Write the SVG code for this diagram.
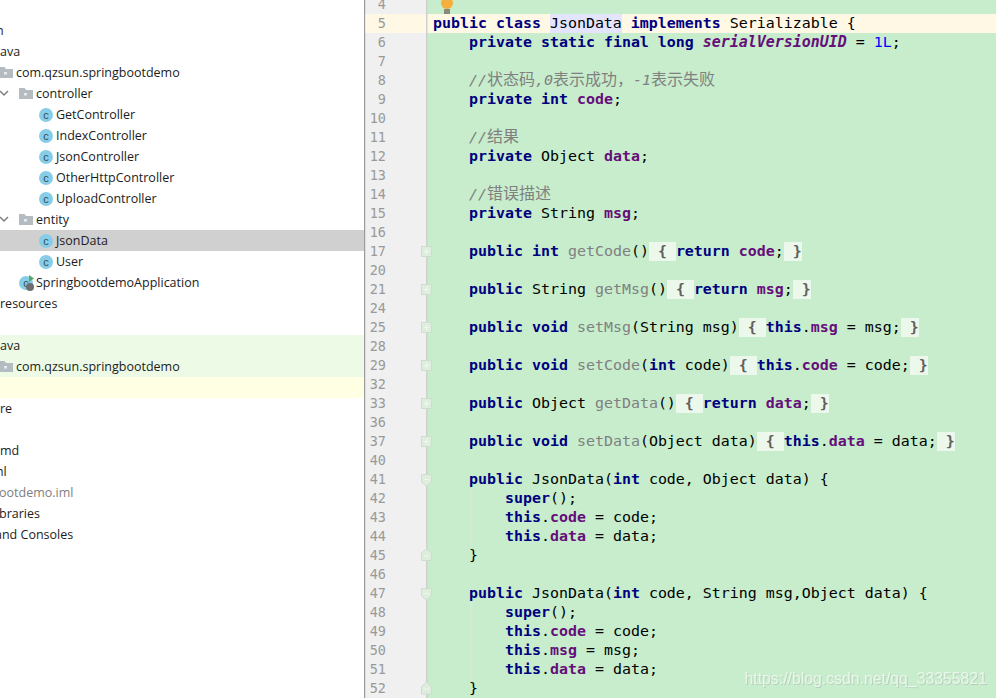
<svg xmlns="http://www.w3.org/2000/svg" width="996" height="698" viewBox="0 0 996 698">
<style>
.t{font:12.5px "Open Sans","Noto Sans",sans-serif;fill:#1c1c1c}
.g{fill:#808080}
.code{font:14.95px "DejaVu Sans Mono","Noto Sans CJK SC",monospace;fill:#000;white-space:pre}
.k{font-weight:700;fill:#000080}
.f{font-weight:700;fill:#660E7A}
.u{fill:#808080}
.cm{font-style:italic;fill:#808080}
.cj{font:16px "Noto Sans CJK SC",sans-serif;fill:#808080}
.b{font-weight:700;fill:#62615c}
.ln{font:13.5px "DejaVu Sans Mono",monospace;fill:#999;text-anchor:end}
.box{fill:#EDF8ED}
.fold{fill:#DDEEDD;stroke:#CFDDCF;stroke-width:1}
.pm{stroke:#F0F6F0;stroke-width:1;fill:none}
.ic{fill:#87CDE8}
.icl{font:11px "Liberation Sans",sans-serif;fill:#2f5060;text-anchor:middle}
.dir{fill:#B4BCC2}
.hole{fill:#E8EBED}
.chev{fill:none;stroke:#7f7f7f;stroke-width:1.500}
.wm{font:15.8px "Liberation Sans",sans-serif;fill:#fff;fill-opacity:.62}
</style>
<defs>
<filter id="sh" x="-5%" y="-30%" width="110%" height="160%"><feDropShadow dx="1" dy="1" stdDeviation=".6" flood-color="#888" flood-opacity=".45"/></filter>
<g id="folder"><path class="dir" d="M0 0h5.500l1.500 2h7v9h-14z"/><rect class="hole" x="5" y="5" width="3" height="2.500"/></g>
<g id="cls"><circle class="ic" r="7"/><text class="icl" y="3.500">c</text></g>
</defs>
<rect width="996" height="698" fill="#fff"/>

<!-- project tree -->
<rect x="0" y="230" width="364" height="21" fill="#D0D0D0"/>
<rect x="0" y="335" width="364" height="42" fill="#EDFAE6"/>
<rect x="0" y="377" width="364" height="21" fill="#FFFFE4"/>
<rect x="364" y="0" width="1.500" height="698" fill="#9b9b9b"/>

<use href="#folder" x="-1" y="67"/>
<use href="#folder" x="19" y="88"/>
<use href="#folder" x="19" y="214"/>
<use href="#folder" x="-1" y="361"/>
<path class="chev" d="M0 91l4 4 4-4M0 217l4 4 4-4"/>
<use href="#cls" x="46" y="115"/>
<use href="#cls" x="46" y="136"/>
<use href="#cls" x="46" y="157"/>
<use href="#cls" x="46" y="178"/>
<use href="#cls" x="46" y="199"/>
<use href="#cls" x="46" y="241"/>
<use href="#cls" x="46" y="262"/>
<use href="#cls" x="26" y="283"/>
<path d="M29 275l5 3.500-5 3.500z" fill="#59A869"/>
<circle cx="30" cy="287" r="4" fill="#6E6E6E"/>

<text class="t" x="-4" y="35">n</text>
<text class="t" x="0" y="56">ava</text>
<text class="t" x="16" y="77">com.qzsun.springbootdemo</text>
<text class="t" x="36" y="98">controller</text>
<text class="t" x="56" y="119">GetController</text>
<text class="t" x="56" y="140">IndexController</text>
<text class="t" x="56" y="161">JsonController</text>
<text class="t" x="56" y="182">OtherHttpController</text>
<text class="t" x="56" y="203">UploadController</text>
<text class="t" x="36" y="224">entity</text>
<text class="t" x="56" y="245">JsonData</text>
<text class="t" x="56" y="266">User</text>
<text class="t" x="36" y="287">SpringbootdemoApplication</text>
<text class="t" x="0" y="308">resources</text>
<text class="t" x="0" y="350">ava</text>
<text class="t" x="16" y="371">com.qzsun.springbootdemo</text>
<text class="t" x="0" y="413">re</text>
<text class="t" x="0" y="455">md</text>
<text class="t" x="-8" y="476">ml</text>
<text class="t g" x="-1" y="497">ootdemo.iml</text>
<text class="t" x="-1" y="518">braries</text>
<text class="t" x="-5" y="539">and Consoles</text>

<!-- editor -->
<rect x="365.500" y="0" width="61" height="698" fill="#F0F0F0"/>
<rect x="427" y="0" width="569" height="698" fill="#C7EDCC"/>
<rect x="365.500" y="14" width="630.500" height="19" fill="#FFF8E4"/>
<rect x="426" y="0" width="1.500" height="698" fill="#D0D0D0"/>
<rect x="550" y="14" width="72" height="19" fill="#E4E4FF"/>

<rect class="box" x="649" y="242" width="27" height="19"/><rect class="box" x="784" y="242" width="18" height="19"/>
<rect class="box" x="667" y="280" width="27" height="19"/><rect class="box" x="793" y="280" width="18" height="19"/>
<rect class="box" x="739" y="318" width="27" height="19"/><rect class="box" x="901" y="318" width="18" height="19"/>
<rect class="box" x="730" y="356" width="27" height="19"/><rect class="box" x="910" y="356" width="18" height="19"/>
<rect class="box" x="676" y="394" width="27" height="19"/><rect class="box" x="811" y="394" width="18" height="19"/>
<rect class="box" x="757" y="432" width="27" height="19"/><rect class="box" x="937" y="432" width="18" height="19"/>

<path d="M471 488V546M471 602V680" stroke="#DDE8DD" stroke-width="1" fill="none"/>

<!-- bulb -->
<circle cx="447" cy="3" r="6" fill="#F4AF3D"/>
<rect x="444" y="9" width="6" height="5" fill="#8a8a7a"/>

<!-- fold markers -->
<g>
<rect class="fold" x="421.500" y="246.500" width="10" height="10"/><path class="pm" d="M424 251.500h5M426.500 249v5"/>
<rect class="fold" x="421.500" y="284.500" width="10" height="10"/><path class="pm" d="M424 289.500h5M426.500 287v5"/>
<rect class="fold" x="421.500" y="322.500" width="10" height="10"/><path class="pm" d="M424 327.500h5M426.500 325v5"/>
<rect class="fold" x="421.500" y="360.500" width="10" height="10"/><path class="pm" d="M424 365.500h5M426.500 363v5"/>
<rect class="fold" x="421.500" y="398.500" width="10" height="10"/><path class="pm" d="M424 403.500h5M426.500 401v5"/>
<rect class="fold" x="421.500" y="436.500" width="10" height="10"/><path class="pm" d="M424 441.500h5M426.500 439v5"/>
<path class="fold" d="M421.500 474.500h10v7.500l-5 4-5-4z"/><path class="pm" d="M424 479.500h5"/>
<path class="fold" d="M421.500 553l5-4 5 4v7.500h-10z"/><path class="pm" d="M424 556h5"/>
<path class="fold" d="M421.500 588.500h10v7.500l-5 4-5-4z"/><path class="pm" d="M424 593.500h5"/>
<path class="fold" d="M421.500 686.500l5-4 5 4v7.500h-10z"/><path class="pm" d="M424 689h5"/>
</g>

<!-- line numbers -->
<g>
<text class="ln" x="386" y="9">4</text><text class="ln" x="386" y="28">5</text><text class="ln" x="386" y="47">6</text><text class="ln" x="386" y="66">7</text><text class="ln" x="386" y="85">8</text><text class="ln" x="386" y="104">9</text><text class="ln" x="386" y="123">10</text><text class="ln" x="386" y="142">11</text><text class="ln" x="386" y="161">12</text><text class="ln" x="386" y="180">13</text><text class="ln" x="386" y="199">14</text><text class="ln" x="386" y="218">15</text><text class="ln" x="386" y="237">16</text><text class="ln" x="386" y="256">17</text><text class="ln" x="386" y="275">20</text><text class="ln" x="386" y="294">21</text><text class="ln" x="386" y="313">24</text><text class="ln" x="386" y="332">25</text><text class="ln" x="386" y="351">28</text><text class="ln" x="386" y="370">29</text><text class="ln" x="386" y="389">32</text><text class="ln" x="386" y="408">33</text><text class="ln" x="386" y="427">36</text><text class="ln" x="386" y="446">37</text><text class="ln" x="386" y="465">40</text><text class="ln" x="386" y="484">41</text><text class="ln" x="386" y="503">42</text><text class="ln" x="386" y="522">43</text><text class="ln" x="386" y="541">44</text><text class="ln" x="386" y="560">45</text><text class="ln" x="386" y="579">46</text><text class="ln" x="386" y="598">47</text><text class="ln" x="386" y="617">48</text><text class="ln" x="386" y="636">49</text><text class="ln" x="386" y="655">50</text><text class="ln" x="386" y="674">51</text><text class="ln" x="386" y="693">52</text>
</g>

<!-- code -->
<g class="code" xml:space="preserve">
<text class="code" x="433" y="28"><tspan class="k">public class</tspan> JsonData <tspan class="k">implements</tspan> Serializable {</text>
<text class="code" x="469" y="47"><tspan class="k">private static final long</tspan> <tspan class="f" font-style="italic">serialVersionUID</tspan> = <tspan fill="#0000FF">1L</tspan>;</text>
<text class="code cm" x="469" y="85">//<tspan class="cj">状态码</tspan>,0<tspan class="cj">表示成功，</tspan>-1<tspan class="cj">表示失败</tspan></text>
<text class="code" x="469" y="104"><tspan class="k">private int</tspan> <tspan class="f">code</tspan>;</text>
<text class="code cm" x="469" y="142">//<tspan class="cj">结果</tspan></text>
<text class="code" x="469" y="161"><tspan class="k">private</tspan> Object <tspan class="f">data</tspan>;</text>
<text class="code cm" x="469" y="199">//<tspan class="cj">错误描述</tspan></text>
<text class="code" x="469" y="218"><tspan class="k">private</tspan> String <tspan class="f">msg</tspan>;</text>
<text class="code" x="469" y="256"><tspan class="k">public int</tspan> <tspan class="u">getCode</tspan>() <tspan class="b">{</tspan> <tspan class="k">return</tspan> <tspan class="f">code</tspan>; <tspan class="b">}</tspan></text>
<text class="code" x="469" y="294"><tspan class="k">public</tspan> String <tspan class="u">getMsg</tspan>() <tspan class="b">{</tspan> <tspan class="k">return</tspan> <tspan class="f">msg</tspan>; <tspan class="b">}</tspan></text>
<text class="code" x="469" y="332"><tspan class="k">public void</tspan> <tspan class="u">setMsg</tspan>(String msg) <tspan class="b">{</tspan> <tspan class="k">this</tspan>.<tspan class="f">msg</tspan> = msg; <tspan class="b">}</tspan></text>
<text class="code" x="469" y="370"><tspan class="k">public void</tspan> <tspan class="u">setCode</tspan>(<tspan class="k">int</tspan> code) <tspan class="b">{</tspan> <tspan class="k">this</tspan>.<tspan class="f">code</tspan> = code; <tspan class="b">}</tspan></text>
<text class="code" x="469" y="408"><tspan class="k">public</tspan> Object <tspan class="u">getData</tspan>() <tspan class="b">{</tspan> <tspan class="k">return</tspan> <tspan class="f">data</tspan>; <tspan class="b">}</tspan></text>
<text class="code" x="469" y="446"><tspan class="k">public void</tspan> <tspan class="u">setData</tspan>(Object data) <tspan class="b">{</tspan> <tspan class="k">this</tspan>.<tspan class="f">data</tspan> = data; <tspan class="b">}</tspan></text>
<text class="code" x="469" y="484"><tspan class="k">public</tspan> JsonData(<tspan class="k">int</tspan> code, Object data) {</text>
<text class="code" x="505" y="503"><tspan class="k">super</tspan>();</text>
<text class="code" x="505" y="522"><tspan class="k">this</tspan>.<tspan class="f">code</tspan> = code;</text>
<text class="code" x="505" y="541"><tspan class="k">this</tspan>.<tspan class="f">data</tspan> = data;</text>
<text class="code" x="469" y="560">}</text>
<text class="code" x="469" y="598"><tspan class="k">public</tspan> JsonData(<tspan class="k">int</tspan> code, String msg,Object data) {</text>
<text class="code" x="505" y="617"><tspan class="k">super</tspan>();</text>
<text class="code" x="505" y="636"><tspan class="k">this</tspan>.<tspan class="f">code</tspan> = code;</text>
<text class="code" x="505" y="655"><tspan class="k">this</tspan>.<tspan class="f">msg</tspan> = msg;</text>
<text class="code" x="505" y="674"><tspan class="k">this</tspan>.<tspan class="f">data</tspan> = data;</text>
<text class="code" x="469" y="693">}</text>
</g>

<text class="wm" x="744.500" y="684" filter="url(#sh)">https://blog.csdn.net/qq_33355821</text>
</svg>
